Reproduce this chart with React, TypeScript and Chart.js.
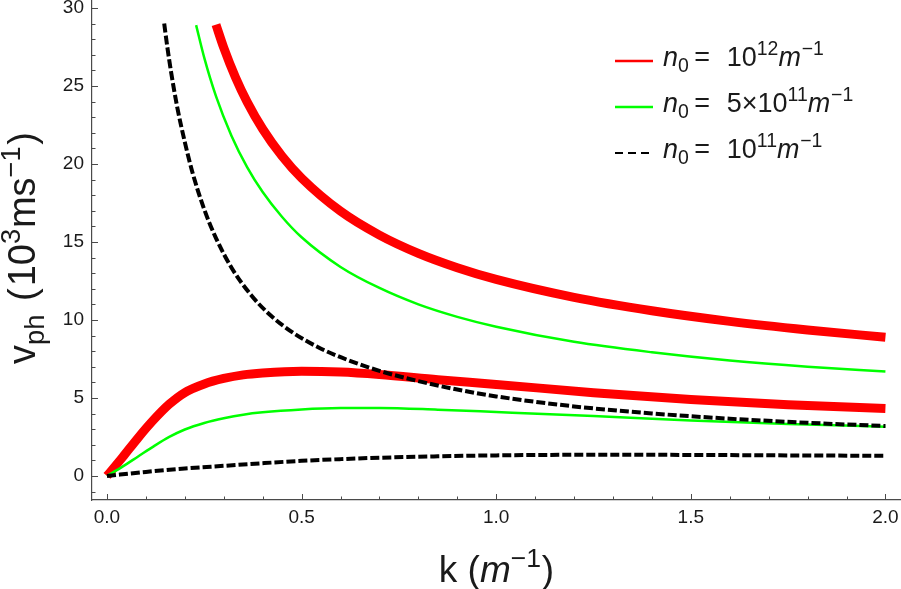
import { useEffect, useRef } from 'react';
import { Chart, registerables } from 'chart.js';

Chart.register(...registerables);

// ---- data (k in m^-1, v_ph in 10^3 m/s) ----
const kRedUpper = [0.28, 0.3, 0.33, 0.36, 0.4, 0.45, 0.5, 0.6, 0.7, 0.8, 0.9, 1.0, 1.2, 1.4, 1.6, 1.8, 2.0];
const vRedUpper = [28.93, 27.45, 25.56, 23.98, 22.24, 20.49, 19.09, 16.97, 15.44, 14.27, 13.35, 12.6, 11.45, 10.59, 9.91, 9.36, 8.89];

const kRedLower = [0, 0.04, 0.08, 0.12, 0.16, 0.2, 0.25, 0.3, 0.35, 0.4, 0.5, 0.6, 0.7, 0.85, 1.0, 1.25, 1.5, 1.75, 2.0];
const vRedLower = [0, 1.2, 2.45, 3.6, 4.6, 5.35, 5.9, 6.25, 6.48, 6.6, 6.71, 6.66, 6.5, 6.17, 5.87, 5.34, 4.9, 4.57, 4.32];

const kGreenUpper = [0.229, 0.25, 0.28, 0.32, 0.36, 0.4, 0.45, 0.5, 0.6, 0.7, 0.8, 0.9, 1.0, 1.2, 1.4, 1.6, 1.8, 2.0];
const vGreenUpper = [28.9, 26.8, 24.35, 21.8, 19.8, 18.2, 16.6, 15.3, 13.4, 12.05, 11.0, 10.2, 9.57, 8.6, 7.93, 7.4, 7.0, 6.69];

const kGreenLower = [0, 0.04, 0.08, 0.12, 0.16, 0.2, 0.25, 0.3, 0.35, 0.4, 0.5, 0.6, 0.7, 0.85, 1.0, 1.25, 1.5, 1.75, 2.0];
const vGreenLower = [0, 0.6, 1.25, 1.9, 2.5, 2.98, 3.4, 3.7, 3.93, 4.08, 4.26, 4.35, 4.36, 4.25, 4.1, 3.84, 3.55, 3.33, 3.16];

const kBlackUpper = [0.147, 0.155, 0.165, 0.18, 0.2, 0.22, 0.25, 0.28, 0.32, 0.37, 0.42, 0.48, 0.55, 0.62, 0.7, 0.8, 0.9, 1.0, 1.2, 1.4, 1.6, 1.8, 2.0];
const vBlackUpper = [29.0, 27.5, 25.85, 23.7, 21.4, 19.42, 17.08, 15.25, 13.35, 11.6, 10.3, 9.15, 8.16, 7.42, 6.74, 6.08, 5.54, 5.1, 4.46, 4.01, 3.67, 3.41, 3.2];

const kBlackLower = [0, 0.1, 0.2, 0.3, 0.4, 0.5, 0.6, 0.7, 0.85, 1.0, 1.25, 1.5, 1.75, 2.0];
const vBlackLower = [0, 0.26, 0.48, 0.65, 0.82, 0.97, 1.08, 1.17, 1.26, 1.32, 1.36, 1.35, 1.32, 1.29];

const xMajorTicks = [0, 0.5, 1.0, 1.5, 2.0];
const yMajorTicks = [0, 5, 10, 15, 20, 25, 30];

// ---- styling ----
const FONT = '"Liberation Sans", Arial, Helvetica, sans-serif';
const AXIS_COLOR = '#4a4a4a';
const TEXT_COLOR = '#1a1a1a';
const RED = '#ff0000';
const GREEN = '#00ff00';
const BLACK = '#000000';

type Seg = { t: string; it?: boolean; sup?: boolean; sub?: boolean; gap?: number };

function segFont(s: Seg, size: number) {
  const sz = s.sup || s.sub ? size * 0.72 : size;
  return `${s.it ? 'italic ' : ''}${sz}px ${FONT}`;
}

function richWidth(ctx: CanvasRenderingContext2D, segs: Seg[], size: number) {
  let w = 0;
  for (const s of segs) {
    ctx.font = segFont(s, size);
    w += ctx.measureText(s.t).width + (s.gap || 0) * size;
  }
  return w;
}

function drawRich(
  ctx: CanvasRenderingContext2D,
  segs: Seg[],
  x: number,
  y: number,
  size: number,
  align: 'left' | 'center'
) {
  let cx = align === 'center' ? x - richWidth(ctx, segs, size) / 2 : x;
  ctx.textAlign = 'left';
  ctx.textBaseline = 'alphabetic';
  for (const s of segs) {
    ctx.font = segFont(s, size);
    const dy = s.sup ? -size * 0.4 : s.sub ? size * 0.24 : 0;
    ctx.fillText(s.t, cx, y + dy);
    cx += ctx.measureText(s.t).width + (s.gap || 0) * size;
  }
}

const xTitle: Seg[] = [
  { t: 'k (' },
  { t: 'm', it: true },
  { t: '−1', sup: true, gap: 0.02 },
  { t: ')' },
];

const yTitle: Seg[] = [
  { t: 'v' },
  { t: 'ph', sub: true, gap: 0.08 },
  { t: ' (', gap: 0.05 },
  { t: '10' },
  { t: '3', sup: true, gap: 0.02 },
  { t: 'ms' },
  { t: '−1', sup: true, gap: 0.04 },
  { t: ')' },
];

const legendRows: { color: string; dash: number[]; width: number; segs: Seg[] }[] = [
  {
    color: RED,
    dash: [],
    width: 2.5,
    segs: [
      { t: 'n', it: true },
      { t: '0', sub: true, gap: 0.2 },
      { t: '=', gap: 0.62 },
      { t: '10' },
      { t: '12', sup: true },
      { t: 'm', it: true, gap: 0.03 },
      { t: '−1', sup: true },
    ],
  },
  {
    color: GREEN,
    dash: [],
    width: 2.5,
    segs: [
      { t: 'n', it: true },
      { t: '0', sub: true, gap: 0.2 },
      { t: '=', gap: 0.62 },
      { t: '5×10' },
      { t: '11', sup: true },
      { t: 'm', it: true, gap: 0.03 },
      { t: '−1', sup: true },
    ],
  },
  {
    color: BLACK,
    dash: [8, 5],
    width: 2,
    segs: [
      { t: 'n', it: true },
      { t: '0', sub: true, gap: 0.2 },
      { t: '=', gap: 0.62 },
      { t: '10' },
      { t: '11', sup: true },
      { t: 'm', it: true, gap: 0.03 },
      { t: '−1', sup: true },
    ],
  },
];

const decorPlugin = {
  id: 'decor',
  afterDraw(chart: any) {
    const { ctx, chartArea: a, scales } = chart;
    const xs = scales.x;
    const ys = scales.y;
    ctx.save();
    // inward ticks
    ctx.strokeStyle = AXIS_COLOR;
    ctx.lineWidth = 1;
    ctx.beginPath();
    for (let i = 0; i <= 20; i++) {
      const v = i / 10;
      const px = Math.round(xs.getPixelForValue(v)) + 0.5;
      const len = xMajorTicks.some((m) => Math.abs(m - v) < 1e-9) ? 6 : 3.5;
      ctx.moveTo(px, a.bottom);
      ctx.lineTo(px, a.bottom - len);
    }
    for (let v = -1; v <= 30; v++) {
      const py = Math.round(ys.getPixelForValue(v)) + 0.5;
      const len = yMajorTicks.includes(v) ? 6 : 3.5;
      ctx.moveTo(a.left, py);
      ctx.lineTo(a.left + len, py);
    }
    ctx.stroke();

    // axis titles
    ctx.fillStyle = TEXT_COLOR;
    drawRich(ctx, xTitle, (a.left + a.right) / 2, 582, 37, 'center');
    ctx.save();
    ctx.translate(35, (a.top + a.bottom) / 2 - 2);
    ctx.rotate(-Math.PI / 2);
    drawRich(ctx, yTitle, 0, 0, 38, 'center');
    ctx.restore();

    // legend
    const legX = 615;
    const legLen = 38;
    const textX = 663;
    const baseY = 66;
    const step = 46;
    legendRows.forEach((row, i) => {
      const by = baseY + i * step;
      ctx.save();
      ctx.strokeStyle = row.color;
      ctx.lineWidth = row.width;
      ctx.setLineDash(row.dash);
      ctx.beginPath();
      ctx.moveTo(legX, by - 5);
      ctx.lineTo(legX + legLen, by - 5);
      ctx.stroke();
      ctx.restore();
      ctx.fillStyle = TEXT_COLOR;
      drawRich(ctx, row.segs, textX, by, 27, 'left');
    });
    ctx.restore();
  },
};

function toPoints(ks: number[], vs: number[]) {
  return ks.map((k, i) => ({ x: k, y: vs[i] }));
}

export default function App() {
  const canvasRef = useRef<HTMLCanvasElement | null>(null);

  useEffect(() => {
    const canvas = canvasRef.current;
    if (!canvas) return;
    const line = (data: any, color: string, width: number, dash: number[], order: number) => ({
      data,
      borderColor: color,
      backgroundColor: color,
      borderWidth: width,
      borderDash: dash,
      borderCapStyle: 'butt' as const,
      borderJoinStyle: 'round' as const,
      pointRadius: 0,
      cubicInterpolationMode: 'monotone' as const,
      fill: false,
      order,
    });
    const chart = new Chart(canvas, {
      type: 'line',
      data: {
        datasets: [
          line(toPoints(kRedUpper, vRedUpper), RED, 9, [], 3),
          line(toPoints(kRedLower, vRedLower), RED, 9, [], 3),
          line(toPoints(kGreenUpper, vGreenUpper), GREEN, 2.5, [], 2),
          line(toPoints(kGreenLower, vGreenLower), GREEN, 2.5, [], 2),
          line(toPoints(kBlackUpper, vBlackUpper), BLACK, 4, [9, 3], 1),
          line(toPoints(kBlackLower, vBlackLower), BLACK, 4, [9, 3], 1),
        ],
      },
      options: {
        animation: false,
        responsive: false,
        maintainAspectRatio: false,
        layout: { padding: 0 },
        plugins: { legend: { display: false }, tooltip: { enabled: false }, title: { display: false } },
        scales: {
          x: {
            type: 'linear',
            min: -0.0385,
            max: 2.04,
            grid: { display: true, drawOnChartArea: false, drawTicks: false },
            border: { display: true, color: AXIS_COLOR, width: 1.2 },
            ticks: {
              stepSize: 0.5,
              includeBounds: false,
              autoSkip: false,
              maxRotation: 0,
              padding: 6,
              color: TEXT_COLOR,
              font: { family: FONT, size: 19 },
              callback: (v: any) => Number(v).toFixed(1),
            },
            afterFit: (s: any) => {
              s.height = 89;
              s.paddingLeft = 0;
              s.paddingRight = 0;
            },
          },
          y: {
            type: 'linear',
            min: -1.54,
            max: 30.51,
            grid: { display: true, drawOnChartArea: false, drawTicks: false },
            border: { display: true, color: AXIS_COLOR, width: 1.2 },
            ticks: {
              stepSize: 5,
              includeBounds: false,
              padding: 8,
              color: TEXT_COLOR,
              font: { family: FONT, size: 19 },
              callback: (v: any) => String(Math.round(Number(v))),
            },
            afterFit: (s: any) => {
              s.width = 92;
              s.paddingTop = 0;
              s.paddingBottom = 0;
            },
          },
        },
      },
      plugins: [decorPlugin],
    });
    return () => chart.destroy();
  }, []);

  return (
    <div style={{ position: 'absolute', left: 0, top: 0, width: 901, height: 589, background: '#fff' }}>
      <canvas ref={canvasRef} width={901} height={589} style={{ display: 'block', width: 901, height: 589 }} />
    </div>
  );
}
